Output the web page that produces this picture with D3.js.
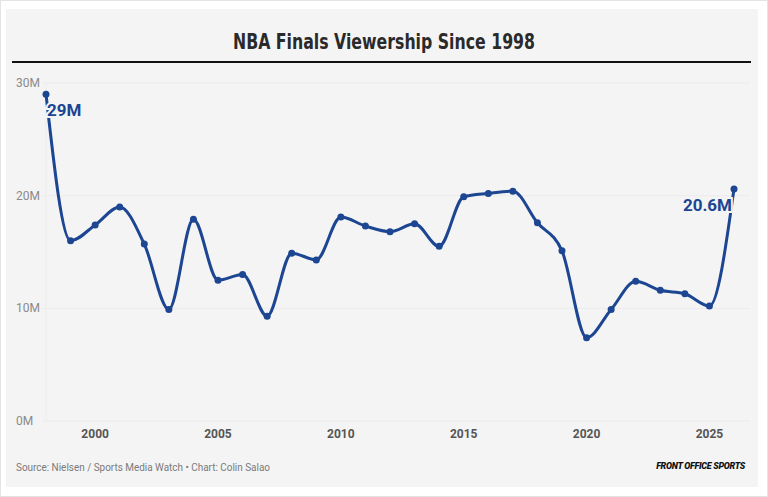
<!DOCTYPE html>
<html>
<head>
<meta charset="utf-8">
<script src="https://cdn.jsdelivr.net/npm/d3@7"></script>
<style>
	body { margin: 0; background: #fff; }
	svg { display: block; }
</style>
</head>
<body>
<div id="chart"></div>
<script>
var years = [1998, 1999, 2000, 2001, 2002, 2003, 2004, 2005, 2006, 2007, 2008, 2009, 2010, 2011,
	2012, 2013, 2014, 2015, 2016, 2017, 2018, 2019, 2020, 2021, 2022, 2023, 2024, 2025, 2026];
var viewers = [29.0, 16.0, 17.4, 19.0, 15.7, 9.9, 17.9, 12.5, 13.0, 9.3, 14.9, 14.3, 18.1, 17.3,
	16.8, 17.5, 15.5, 19.9, 20.2, 20.4, 17.6, 15.1, 7.4, 9.9, 12.4, 11.6, 11.3, 10.2, 20.6];
var yTicks = [0, 10, 20, 30];
var xTicks = [2000, 2005, 2010, 2015, 2020, 2025];
var labels = [
	{year: 1998, text: "29M"},
	{year: 2026, text: "20.6M"}
];

var width = 768, height = 497,
	blue = "#1c4592",
	bg = "#f4f4f4";

var svg = d3.select("#chart").append("svg")
	.attr("width", width)
	.attr("height", height);

svg.append("rect")
	.attr("x", 0.5).attr("y", 0.5)
	.attr("width", width - 1).attr("height", height - 1)
	.attr("fill", "#fff")
	.attr("stroke", "#e4e4e4");

svg.append("rect")
	.attr("x", 6).attr("y", 9)
	.attr("width", 752).attr("height", 478)
	.attr("fill", bg);

svg.append("text")
	.attr("x", 384).attr("y", 49)
	.attr("text-anchor", "middle")
	.attr("font-family", "'Liberation Sans Narrow', 'DejaVu Sans Condensed', sans-serif")
	.attr("font-weight", 700)
	.attr("font-size", 21)
	.attr("textLength", 302)
	.attr("lengthAdjust", "spacingAndGlyphs")
	.attr("fill", "#2a2a2a")
	.text("NBA Finals Viewership Since 1998");

svg.append("line")
	.attr("x1", 12).attr("x2", 751)
	.attr("y1", 62).attr("y2", 62)
	.attr("stroke", "#111")
	.attr("stroke-width", 2);

var x = d3.scaleLinear().domain([1998, 2026]).range([46, 734]);
var y = d3.scaleLinear().domain([0, 30]).range([421, 83]);

var g = svg.append("g");

g.selectAll(".grid").data(yTicks).enter().append("line")
	.attr("class", "grid")
	.attr("x1", 42).attr("x2", 750)
	.attr("y1", function(d) { return y(d); })
	.attr("y2", function(d) { return y(d); })
	.attr("stroke", "#ebebeb")
	.attr("stroke-width", 1);

g.append("line")
	.attr("x1", x(1998)).attr("x2", x(1998))
	.attr("y1", y(30)).attr("y2", y(0))
	.attr("stroke", "#ececec");

g.selectAll(".ylab").data(yTicks).enter().append("text")
	.attr("class", "ylab")
	.attr("x", 16)
	.attr("y", function(d) { return y(d) + 4; })
	.attr("font-family", "Roboto, sans-serif")
	.attr("font-size", 12)
	.attr("fill", "#8a8a8a")
	.text(function(d) { return d + "M"; });

g.selectAll(".xlab").data(xTicks).enter().append("text")
	.attr("class", "xlab")
	.attr("x", function(d) { return x(d); })
	.attr("y", 438)
	.attr("text-anchor", "middle")
	.attr("font-family", "Roboto, sans-serif")
	.attr("font-weight", 700)
	.attr("font-size", 12)
	.attr("fill", "#555")
	.text(function(d) { return d; });

var data = years.map(function(d, i) { return {year: d, value: viewers[i]}; });

var line = d3.line()
	.x(function(d) { return x(d.year); })
	.y(function(d) { return y(d.value); })
	.curve(d3.curveMonotoneX);

g.append("path")
	.datum(data)
	.attr("d", line)
	.attr("fill", "none")
	.attr("stroke", blue)
	.attr("stroke-width", 3);

g.selectAll(".dot").data(data).enter().append("circle")
	.attr("class", "dot")
	.attr("cx", function(d) { return x(d.year); })
	.attr("cy", function(d) { return y(d.value); })
	.attr("r", 3.5)
	.attr("fill", blue);

// value labels with a halo in the background colour
g.selectAll(".vlab").data(labels).enter().append("text")
	.attr("class", "vlab")
	.attr("x", function(d) { return d.year == 1998 ? x(d.year) + 1 : x(d.year) - 2; })
	.attr("y", function(d) { return y(viewers[years.indexOf(d.year)]) + 22; })
	.attr("text-anchor", function(d) { return d.year == 1998 ? "start" : "end"; })
	.attr("font-family", "Roboto, sans-serif")
	.attr("font-weight", 700)
	.attr("font-size", 17)
	.attr("fill", blue)
	.attr("stroke", bg)
	.attr("stroke-width", 4)
	.attr("paint-order", "stroke")
	.text(function(d) { return d.text; });

svg.append("text")
	.attr("x", 16).attr("y", 471)
	.attr("font-family", "Roboto, sans-serif")
	.attr("font-size", 11)
	.attr("textLength", 254)
	.attr("lengthAdjust", "spacingAndGlyphs")
	.attr("fill", "#7a7a7a")
	.text("Source: Nielsen / Sports Media Watch \u2022 Chart: Colin Salao");

svg.append("text")
	.attr("x", 745).attr("y", 469)
	.attr("text-anchor", "end")
	.attr("font-family", "Roboto, sans-serif")
	.attr("font-weight", 900)
	.attr("font-style", "italic")
	.attr("font-size", 9)
	.attr("letter-spacing", -0.3)
	.attr("fill", "#111")
	.text("FRONT OFFICE SPORTS");
</script>
</body>
</html>
